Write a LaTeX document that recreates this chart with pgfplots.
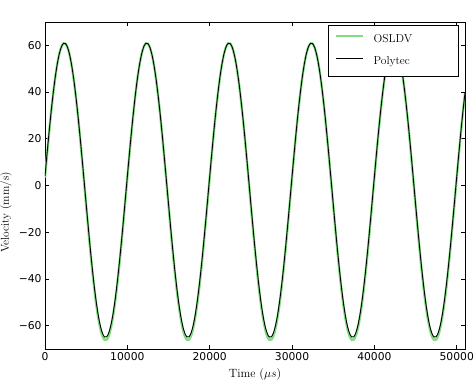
\documentclass[border=0pt]{standalone}
\usepackage{pgfplots}
\usepackage{pgfplotstable}
\pgfplotsset{compat=1.18}
\usepackage{fontspec}
\newfontfamily\dejavu{DejaVu Sans}
\definecolor{oslgreen}{RGB}{130,220,130}
\pgfplotstableread{
t p o
0 3.93 3.38
250 13.67 13.22
500 23.02 22.66
750 31.76 31.48
1000 39.66 39.46
1250 46.54 46.40
1500 52.22 52.14
1750 56.58 56.54
2000 59.48 59.47
2250 60.87 60.87
2500 60.72 60.72
2750 59.02 59.00
3000 55.82 55.77
3250 51.19 51.10
3500 45.26 45.11
3750 38.16 37.94
4000 30.07 29.77
4250 21.19 20.81
4500 11.74 11.27
4750 1.96 1.39
5000 -7.93 -8.59
5250 -17.67 -18.42
5500 -27.02 -27.86
5750 -35.76 -36.68
6000 -43.66 -44.66
6250 -50.54 -51.60
6500 -56.22 -57.34
6750 -60.58 -61.74
7000 -63.48 -64.67
7250 -64.87 -66.07
7500 -64.72 -65.92
7750 -63.02 -64.20
8000 -59.82 -60.97
8250 -55.19 -56.30
8500 -49.26 -50.31
8750 -42.16 -43.14
9000 -34.07 -34.97
9250 -25.19 -26.01
9500 -15.74 -16.47
9750 -5.96 -6.59
10000 3.93 3.38
10250 13.67 13.22
10500 23.02 22.66
10750 31.76 31.48
11000 39.66 39.46
11250 46.54 46.40
11500 52.22 52.14
11750 56.58 56.54
12000 59.48 59.47
12250 60.87 60.87
12500 60.72 60.72
12750 59.02 59.00
13000 55.82 55.77
13250 51.19 51.10
13500 45.26 45.11
13750 38.16 37.94
14000 30.07 29.77
14250 21.19 20.81
14500 11.74 11.27
14750 1.96 1.39
15000 -7.93 -8.59
15250 -17.67 -18.42
15500 -27.02 -27.86
15750 -35.76 -36.68
16000 -43.66 -44.66
16250 -50.54 -51.60
16500 -56.22 -57.34
16750 -60.58 -61.74
17000 -63.48 -64.67
17250 -64.87 -66.07
17500 -64.72 -65.92
17750 -63.02 -64.20
18000 -59.82 -60.97
18250 -55.19 -56.30
18500 -49.26 -50.31
18750 -42.16 -43.14
19000 -34.07 -34.97
19250 -25.19 -26.01
19500 -15.74 -16.47
19750 -5.96 -6.59
20000 3.93 3.38
20250 13.67 13.22
20500 23.02 22.66
20750 31.76 31.48
21000 39.66 39.46
21250 46.54 46.40
21500 52.22 52.14
21750 56.58 56.54
22000 59.48 59.47
22250 60.87 60.87
22500 60.72 60.72
22750 59.02 59.00
23000 55.82 55.77
23250 51.19 51.10
23500 45.26 45.11
23750 38.16 37.94
24000 30.07 29.77
24250 21.19 20.81
24500 11.74 11.27
24750 1.96 1.39
25000 -7.93 -8.59
25250 -17.67 -18.42
25500 -27.02 -27.86
25750 -35.76 -36.68
26000 -43.66 -44.66
26250 -50.54 -51.60
26500 -56.22 -57.34
26750 -60.58 -61.74
27000 -63.48 -64.67
27250 -64.87 -66.07
27500 -64.72 -65.92
27750 -63.02 -64.20
28000 -59.82 -60.97
28250 -55.19 -56.30
28500 -49.26 -50.31
28750 -42.16 -43.14
29000 -34.07 -34.97
29250 -25.19 -26.01
29500 -15.74 -16.47
29750 -5.96 -6.59
30000 3.93 3.38
30250 13.67 13.22
30500 23.02 22.66
30750 31.76 31.48
31000 39.66 39.46
31250 46.54 46.40
31500 52.22 52.14
31750 56.58 56.54
32000 59.48 59.47
32250 60.87 60.87
32500 60.72 60.72
32750 59.02 59.00
33000 55.82 55.77
33250 51.19 51.10
33500 45.26 45.11
33750 38.16 37.94
34000 30.07 29.77
34250 21.19 20.81
34500 11.74 11.27
34750 1.96 1.39
35000 -7.93 -8.59
35250 -17.67 -18.42
35500 -27.02 -27.86
35750 -35.76 -36.68
36000 -43.66 -44.66
36250 -50.54 -51.60
36500 -56.22 -57.34
36750 -60.58 -61.74
37000 -63.48 -64.67
37250 -64.87 -66.07
37500 -64.72 -65.92
37750 -63.02 -64.20
38000 -59.82 -60.97
38250 -55.19 -56.30
38500 -49.26 -50.31
38750 -42.16 -43.14
39000 -34.07 -34.97
39250 -25.19 -26.01
39500 -15.74 -16.47
39750 -5.96 -6.59
40000 3.93 3.38
40250 13.67 13.22
40500 23.02 22.66
40750 31.76 31.48
41000 39.66 39.46
41250 46.54 46.40
41500 52.22 52.14
41750 56.58 56.54
42000 59.48 59.47
42250 60.87 60.87
42500 60.72 60.72
42750 59.02 59.00
43000 55.82 55.77
43250 51.19 51.10
43500 45.26 45.11
43750 38.16 37.94
44000 30.07 29.77
44250 21.19 20.81
44500 11.74 11.27
44750 1.96 1.39
45000 -7.93 -8.59
45250 -17.67 -18.42
45500 -27.02 -27.86
45750 -35.76 -36.68
46000 -43.66 -44.66
46250 -50.54 -51.60
46500 -56.22 -57.34
46750 -60.58 -61.74
47000 -63.48 -64.67
47250 -64.87 -66.07
47500 -64.72 -65.92
47750 -63.02 -64.20
48000 -59.82 -60.97
48250 -55.19 -56.30
48500 -49.26 -50.31
48750 -42.16 -43.14
49000 -34.07 -34.97
49250 -25.19 -26.01
49500 -15.74 -16.47
49750 -5.96 -6.59
50000 3.93 3.38
50250 13.67 13.22
50500 23.02 22.66
50750 31.76 31.48
51000 39.66 39.46
}\datatable
\begin{document}
\begin{tikzpicture}
\begin{axis}[
  width=420bp, height=327bp, scale only axis,
  xmin=0, xmax=51000, ymin=-70, ymax=70,
  scaled x ticks=false, scaled y ticks=false,
  xtick={0,10000,20000,30000,40000,50000},
  xticklabels={0,10000,20000,30000,40000,50000},
  ytick={-60,-40,-20,0,20,40,60},
  yticklabels={−60,−40,−20,0,20,40,60},
  tick align=inside, major tick length=4bp,
  tick style={black, line width=0.6bp},
  axis line style={black, line width=0.8bp},
  ticklabel style={font=\dejavu\fontsize{10.8}{12}\selectfont},
  xticklabel style={inner xsep=0bp},
  xlabel={Time ($\mu s$)},
  ylabel={Velocity (mm/s)},
  label style={font=\fontsize{12}{14}\selectfont, inner sep=0pt},
  xlabel style={at={(axis description cs:0.5,0)}, anchor=center, yshift=-26bp},
  ylabel style={at={(axis description cs:0,0.5)}, anchor=center, yshift=39bp, xshift=-27bp, font=\fontsize{11.5}{13}\selectfont},
  legend image code/.code={\draw[#1] (0bp,3.5bp) -- (27bp,3.5bp);},
  legend cell align=left,
  legend style={at={(1,1)}, anchor=north east, xshift=-6bp, yshift=-3bp,
    draw=black, line width=0.8bp, fill=white,
    inner xsep=7bp, inner ysep=9bp, row sep=12bp, column sep=9bp,
    font=\fontsize{11.5}{13}\selectfont,
    nodes={inner sep=0pt, text height=8bp, text depth=2.5bp}},
]
\addplot[oslgreen, line width=2.4bp, smooth] table[x=t, y=o] {\datatable};
\addlegendentry{\makebox[78bp][l]{OSLDV}}
\addplot[black, line width=0.9bp, smooth] table[x=t, y=p] {\datatable};
\addlegendentry{\makebox[78bp][l]{Polytec}}
\end{axis}
\useasboundingbox (current axis.south west) +(-45bp,-35bp) (current axis.north east) +(9bp,22bp);
\end{tikzpicture}
\end{document}
